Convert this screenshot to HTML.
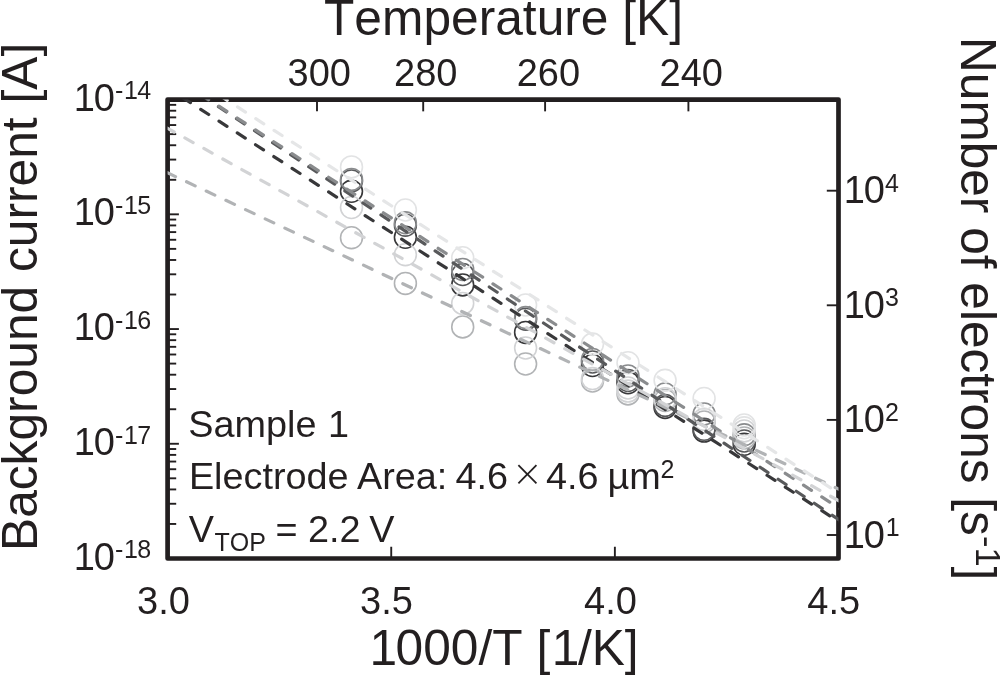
<!DOCTYPE html>
<html lang="en"><head><meta charset="utf-8"><title>Background current vs 1000/T</title>
<style>html,body{margin:0;padding:0;background:#fff;}body{width:1000px;height:676px;overflow:hidden;}svg{display:block;}text{font-family:"Liberation Sans",Arial,Helvetica,sans-serif;fill:#231f20;font-kerning:none;font-variant-ligatures:none;}</style></head><body>
<svg xmlns="http://www.w3.org/2000/svg" width="1000" height="676" viewBox="0 0 1000 676">
<rect width="1000" height="676" fill="#fff"/>
<defs><clipPath id="c"><rect x="167.60" y="99.60" width="670.90" height="458.90"/></clipPath></defs>
<g fill="none" stroke-width="1.6">
<circle cx="351.5" cy="191.3" r="10.95" stroke="#38383a"/>
<circle cx="351.5" cy="180.9" r="10.95" stroke="#58595b"/>
<circle cx="351.5" cy="179.4" r="10.95" stroke="#8a8c8e"/>
<circle cx="351.5" cy="237.7" r="10.95" stroke="#b1b3b5"/>
<circle cx="351.5" cy="207.5" r="10.95" stroke="#d2d3d5"/>
<circle cx="351.5" cy="166.9" r="10.95" stroke="#e2e3e4"/>
<circle cx="405.4" cy="237.3" r="10.95" stroke="#38383a"/>
<circle cx="405.4" cy="225.2" r="10.95" stroke="#58595b"/>
<circle cx="405.4" cy="222.8" r="10.95" stroke="#8a8c8e"/>
<circle cx="405.4" cy="283.4" r="10.95" stroke="#b1b3b5"/>
<circle cx="405.4" cy="254.7" r="10.95" stroke="#d2d3d5"/>
<circle cx="405.4" cy="210.0" r="10.95" stroke="#e2e3e4"/>
<circle cx="462.7" cy="284.9" r="10.95" stroke="#38383a"/>
<circle cx="462.7" cy="274.5" r="10.95" stroke="#58595b"/>
<circle cx="462.7" cy="269.4" r="10.95" stroke="#8a8c8e"/>
<circle cx="462.7" cy="326.9" r="10.95" stroke="#b1b3b5"/>
<circle cx="462.7" cy="303.4" r="10.95" stroke="#d2d3d5"/>
<circle cx="462.7" cy="257.7" r="10.95" stroke="#e2e3e4"/>
<circle cx="525.6" cy="332.4" r="10.95" stroke="#38383a"/>
<circle cx="525.6" cy="319.2" r="10.95" stroke="#58595b"/>
<circle cx="525.6" cy="317.6" r="10.95" stroke="#8a8c8e"/>
<circle cx="525.6" cy="364.0" r="10.95" stroke="#b1b3b5"/>
<circle cx="525.6" cy="348.0" r="10.95" stroke="#d2d3d5"/>
<circle cx="525.6" cy="305.0" r="10.95" stroke="#e2e3e4"/>
<circle cx="592.5" cy="365.5" r="10.95" stroke="#38383a"/>
<circle cx="592.5" cy="362.0" r="10.95" stroke="#58595b"/>
<circle cx="592.5" cy="359.5" r="10.95" stroke="#8a8c8e"/>
<circle cx="592.5" cy="381.0" r="10.95" stroke="#b1b3b5"/>
<circle cx="592.5" cy="378.6" r="10.95" stroke="#d2d3d5"/>
<circle cx="592.5" cy="344.1" r="10.95" stroke="#e2e3e4"/>
<circle cx="628.0" cy="382.8" r="10.95" stroke="#38383a"/>
<circle cx="628.0" cy="380.5" r="10.95" stroke="#58595b"/>
<circle cx="628.0" cy="375.9" r="10.95" stroke="#8a8c8e"/>
<circle cx="628.0" cy="393.9" r="10.95" stroke="#b1b3b5"/>
<circle cx="628.0" cy="391.1" r="10.95" stroke="#d2d3d5"/>
<circle cx="628.0" cy="388.0" r="10.95" stroke="#d2d3d5"/>
<circle cx="628.0" cy="362.7" r="10.95" stroke="#e2e3e4"/>
<circle cx="665.1" cy="407.4" r="10.95" stroke="#38383a"/>
<circle cx="665.1" cy="405.4" r="10.95" stroke="#58595b"/>
<circle cx="665.1" cy="394.0" r="10.95" stroke="#8a8c8e"/>
<circle cx="665.1" cy="400.5" r="10.95" stroke="#b1b3b5"/>
<circle cx="665.1" cy="398.7" r="10.95" stroke="#d2d3d5"/>
<circle cx="665.1" cy="380.3" r="10.95" stroke="#e2e3e4"/>
<circle cx="704.1" cy="431.1" r="10.95" stroke="#38383a"/>
<circle cx="704.1" cy="429.3" r="10.95" stroke="#58595b"/>
<circle cx="704.1" cy="414.0" r="10.95" stroke="#8a8c8e"/>
<circle cx="704.1" cy="422.0" r="10.95" stroke="#b1b3b5"/>
<circle cx="704.1" cy="419.3" r="10.95" stroke="#d2d3d5"/>
<circle cx="704.1" cy="398.5" r="10.95" stroke="#e2e3e4"/>
<circle cx="744.2" cy="444.3" r="10.95" stroke="#38383a"/>
<circle cx="744.2" cy="441.0" r="10.95" stroke="#58595b"/>
<circle cx="744.2" cy="434.8" r="10.95" stroke="#8a8c8e"/>
<circle cx="744.2" cy="437.9" r="10.95" stroke="#b1b3b5"/>
<circle cx="744.2" cy="430.9" r="10.95" stroke="#d2d3d5"/>
<circle cx="744.2" cy="425.0" r="10.95" stroke="#e2e3e4"/>
<circle cx="744.2" cy="427.8" r="10.95" stroke="#e2e3e4"/>
</g>
<g stroke="#231f20" fill="none" stroke-width="1.9">
<line x1="167.60" y1="523.96" x2="176.20" y2="523.96"/>
<line x1="167.60" y1="503.76" x2="176.20" y2="503.76"/>
<line x1="167.60" y1="489.43" x2="176.20" y2="489.43"/>
<line x1="167.60" y1="478.31" x2="176.20" y2="478.31"/>
<line x1="167.60" y1="469.23" x2="176.20" y2="469.23"/>
<line x1="167.60" y1="461.55" x2="176.20" y2="461.55"/>
<line x1="167.60" y1="454.89" x2="176.20" y2="454.89"/>
<line x1="167.60" y1="449.02" x2="176.20" y2="449.02"/>
<line x1="167.60" y1="409.24" x2="176.20" y2="409.24"/>
<line x1="167.60" y1="389.04" x2="176.20" y2="389.04"/>
<line x1="167.60" y1="374.70" x2="176.20" y2="374.70"/>
<line x1="167.60" y1="363.59" x2="176.20" y2="363.59"/>
<line x1="167.60" y1="354.50" x2="176.20" y2="354.50"/>
<line x1="167.60" y1="346.82" x2="176.20" y2="346.82"/>
<line x1="167.60" y1="340.17" x2="176.20" y2="340.17"/>
<line x1="167.60" y1="334.30" x2="176.20" y2="334.30"/>
<line x1="167.60" y1="294.51" x2="176.20" y2="294.51"/>
<line x1="167.60" y1="274.31" x2="176.20" y2="274.31"/>
<line x1="167.60" y1="259.98" x2="176.20" y2="259.98"/>
<line x1="167.60" y1="248.86" x2="176.20" y2="248.86"/>
<line x1="167.60" y1="239.78" x2="176.20" y2="239.78"/>
<line x1="167.60" y1="232.10" x2="176.20" y2="232.10"/>
<line x1="167.60" y1="225.44" x2="176.20" y2="225.44"/>
<line x1="167.60" y1="219.57" x2="176.20" y2="219.57"/>
<line x1="167.60" y1="179.79" x2="176.20" y2="179.79"/>
<line x1="167.60" y1="159.59" x2="176.20" y2="159.59"/>
<line x1="167.60" y1="145.25" x2="176.20" y2="145.25"/>
<line x1="167.60" y1="134.14" x2="176.20" y2="134.14"/>
<line x1="167.60" y1="125.05" x2="176.20" y2="125.05"/>
<line x1="167.60" y1="117.37" x2="176.20" y2="117.37"/>
<line x1="167.60" y1="110.72" x2="176.20" y2="110.72"/>
<line x1="167.60" y1="104.85" x2="176.20" y2="104.85"/>
<line x1="167.60" y1="443.77" x2="178.90" y2="443.77"/>
<line x1="167.60" y1="329.05" x2="178.90" y2="329.05"/>
<line x1="167.60" y1="214.33" x2="178.90" y2="214.33"/>
<line x1="826.80" y1="190.70" x2="838.50" y2="190.70"/>
<line x1="826.80" y1="305.30" x2="838.50" y2="305.30"/>
<line x1="826.80" y1="419.90" x2="838.50" y2="419.90"/>
<line x1="826.80" y1="535.00" x2="838.50" y2="535.00"/>
<line x1="391.23" y1="558.50" x2="391.23" y2="546.75"/>
<line x1="614.87" y1="558.50" x2="614.87" y2="546.75"/>
<line x1="317.00" y1="99.60" x2="317.00" y2="111.35"/>
<line x1="423.20" y1="99.60" x2="423.20" y2="111.35"/>
<line x1="545.10" y1="99.60" x2="545.10" y2="111.35"/>
<line x1="688.40" y1="99.60" x2="688.40" y2="111.35"/>
</g>
<rect x="167.60" y="99.60" width="670.90" height="458.90" fill="none" stroke="#231f20" stroke-width="4.70" stroke-linejoin="round"/>
<g clip-path="url(#c)" fill="none" stroke-width="3.2" stroke-linecap="round">
<line x1="135.61" y1="67.23" x2="855.60" y2="532.51" stroke="#38383a" stroke-dasharray="9.50 12.25" stroke-dashoffset="9.45"/>
<line x1="159.05" y1="67.15" x2="855.45" y2="530.68" stroke="#58595b" stroke-dasharray="9.50 12.19" stroke-dashoffset="15.41"/>
<line x1="158.85" y1="67.26" x2="855.58" y2="518.88" stroke="#8a8c8e" stroke-dasharray="9.50 12.27" stroke-dashoffset="15.48"/>
<line x1="113.23" y1="147.22" x2="856.89" y2="497.73" stroke="#b1b3b5" stroke-dasharray="9.50 12.23" stroke-dashoffset="5.84"/>
<line x1="115.04" y1="99.19" x2="856.29" y2="510.50" stroke="#d2d3d5" stroke-dasharray="9.50 12.22" stroke-dashoffset="7.05"/>
<line x1="176.12" y1="67.48" x2="855.63" y2="503.91" stroke="#e5e6e7" stroke-dasharray="9.50 12.23" stroke-dashoffset="13.96"/>
</g>
<g font-size="38.0">
<text x="319.30" y="85.6" text-anchor="middle">300</text>
<text x="425.80" y="85.6" text-anchor="middle">280</text>
<text x="548.40" y="85.6" text-anchor="middle">260</text>
<text x="691.30" y="85.6" text-anchor="middle">240</text>
<text x="163.50" y="614.3" text-anchor="middle">3.0</text>
<text x="386.50" y="614.3" text-anchor="middle">3.5</text>
<text x="610.50" y="614.3" text-anchor="middle">4.0</text>
<text x="833.70" y="614.3" text-anchor="middle">4.5</text>
<text x="72.7" y="110.60" dx="1.1 -1.1 0 0.8 -0.8">10<tspan font-size="25.0" dy="-11.2">-14</tspan></text>
<text x="72.7" y="225.33" dx="1.1 -1.1 0 0.8 -0.8">10<tspan font-size="25.0" dy="-11.2">-15</tspan></text>
<text x="72.7" y="340.05" dx="1.1 -1.1 0 0.8 -0.8">10<tspan font-size="25.0" dy="-11.2">-16</tspan></text>
<text x="72.7" y="454.77" dx="1.1 -1.1 0 0.8 -0.8">10<tspan font-size="25.0" dy="-11.2">-17</tspan></text>
<text x="72.7" y="569.50" dx="1.1 -1.1 0 0.8 -0.8">10<tspan font-size="25.0" dy="-11.2">-18</tspan></text>
<text x="842.7" y="203.20" dx="1.1 -1.1 0">10<tspan font-size="25.0" dy="-11.4">4</tspan></text>
<text x="842.7" y="317.80" dx="1.1 -1.1 0">10<tspan font-size="25.0" dy="-11.4">3</tspan></text>
<text x="842.7" y="432.40" dx="1.1 -1.1 0">10<tspan font-size="25.0" dy="-11.4">2</tspan></text>
<text x="842.7" y="547.50" dx="1.1 -1.1 0.8">10<tspan font-size="25.0" dy="-11.4">1</tspan></text>
<text x="188.2" y="436.6" font-size="37.8" dx="0 0 0 0 0 0 0 1.1">Sample 1</text>
<text y="488.6" font-size="37.8"><tspan x="188.9">Electrode</tspan> <tspan x="357.0">Area:</tspan> <tspan x="455.4">4.6</tspan><tspan x="511.8" dy="-3.1" font-size="37.4" font-weight="200" style="font-family:'DejaVu Sans',sans-serif">×</tspan><tspan x="545.9" dy="3.1">4.6</tspan> <tspan x="607.6">µm</tspan><tspan x="660.4" font-size="25.0" dy="-10.3">2</tspan></text>
<text y="541.9" font-size="37.8"><tspan x="188.8">V</tspan><tspan x="214.5" font-size="25.0" dy="9.1">TOP</tspan> <tspan x="275.6" dy="-9.1">=</tspan> <tspan x="308.0">2.2</tspan> <tspan x="369.3">V</tspan></text>
</g>
<g font-size="49.7">
<text x="324" y="35">Temperature [K]</text>
<text x="367.9" y="664.8" dx="1.5 -1.5 0 0 0 0 0 0 1.5 -1.5">1000/T [1/K]</text>
<text transform="translate(36.9,551) rotate(-90)">Background current [A]</text>
<text font-size="49.6" transform="translate(961.1,37.0) rotate(90)">Number of electrons [s<tspan font-size="34.5" dy="-14.7">-1</tspan><tspan dy="14.7">]</tspan></text>
</g>
</svg></body></html>
